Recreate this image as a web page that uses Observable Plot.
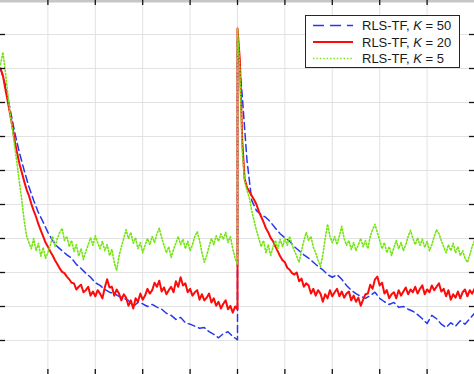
<!DOCTYPE html>
<html><head><meta charset="utf-8">
<script src="https://cdn.jsdelivr.net/npm/d3@7"></script>
<script src="https://cdn.jsdelivr.net/npm/@observablehq/plot@0.6"></script>
<style>
html,body{margin:0;padding:0;background:#fff;overflow:hidden;}
#wrap{position:relative;width:474px;height:374px;overflow:hidden;}
#legend{position:absolute;left:305px;top:15px;}
</style></head><body><div id="wrap"></div>
<script>
// ---- data (MSD in dB vs. iterations); change of system at iteration 1000 ----
const SWITCH_AT = 1000;
const STEP_FINE = 10;    // red & green sampled every 10 iterations
const STEP_COARSE = 20;  // blue sampled every 20 iterations
const xTicks = [200, 400, 600, 800, 1000, 1200, 1400, 1600, 1800];
const yTicks = [-50, -45, -40, -35, -30, -25, -20, -15, -10, -5];
const xDomain = [0, 2000];
const yDomain = [-55, 0];
const kValues = [50, 20, 5];
const labelPrefix = "RLS-TF, ";

// K = 50 (blue dashed)
const blue1 = [-10.0,-12.4,-15.9,-19.4,-22.4,-25.0,-27.4,-29.4,-31.2,-32.6,
  -34.1,-35.3,-36.2,-36.8,-37.4,-37.9,-38.8,-39.4,-40.1,-40.7,
  -41.5,-41.9,-42.5,-42.9,-43.1,-43.5,-43.8,-44.1,-45.0,-44.4,
  -44.6,-45.0,-44.7,-45.1,-45.4,-46.0,-46.3,-46.9,-46.6,-47.4,
  -47.6,-47.9,-48.2,-48.1,-48.7,-49.1,-49.6,-49.0,-48.7,-49.4,
  -49.9];
const blue2 = [-5.9,-14.0,-23.5,-29.4,-30.9,-31.5,-31.9,-32.6,-33.5,-34.3,
  -34.9,-35.4,-36.2,-36.8,-37.4,-37.9,-38.5,-39.1,-39.6,-40.3,
  -40.7,-40.3,-41.0,-41.9,-42.6,-43.1,-43.5,-43.8,-43.4,-42.9,
  -43.8,-44.3,-44.7,-44.4,-45.1,-45.0,-45.4,-45.7,-46.2,-46.8,
  -47.5,-46.3,-46.8,-47.6,-48.1,-47.4,-47.9,-47.1,-47.6,-46.8,
  -46.0];

// K = 20 (red solid)
const red1 = [-10.0,-11.0,-12.9,-14.7,-16.6,-18.5,-20.6,-22.4,-24.0,-25.3,
  -26.6,-27.8,-28.7,-29.9,-30.9,-31.8,-32.9,-33.8,-34.7,-35.6,
  -36.2,-36.9,-37.5,-38.2,-38.8,-39.4,-39.9,-40.1,-40.6,-41.0,
  -41.5,
  -41.6,-42.5,-42.1,-41.8,-42.9,-42.6,-42.1,-43.4,-42.8,-43.5,
  -42.6,-43.1,-43.8,-42.2,-41.0,-42.2,-42.1,-43.4,-42.5,-43.1,
  -44.1,-43.2,-43.7,-44.9,-44.1,-45.3,-43.8,-44.3,-43.1,-44.0,
  -43.4,-42.4,-43.1,-42.6,-41.5,-42.1,-41.2,-42.8,-42.2,-43.2,
  -42.6,-42.1,-42.9,-41.3,-42.1,-40.7,-41.9,-41.6,-42.9,-42.4,
  -43.4,-42.9,-42.6,-44.0,-43.2,-44.1,-43.7,-43.1,-44.4,-43.8,
  -44.9,-44.3,-45.3,-44.6,-44.1,-45.4,-44.9,-45.9,-45.0,-45.4];
const red2 = [-4.1,-8.8,-20.6,-26.2,-27.5,-28.1,-28.7,-29.3,-30.0,-31.0,
  -31.8,-32.6,-33.5,-34.1,-34.9,-35.4,-36.2,-36.9,-37.6,-38.2,
  -38.5,-39.3,-39.6,-40.1,
  -40.3,-40.0,-41.3,-40.9,-42.1,-41.6,-41.9,-43.1,-42.4,-43.4,
  -42.6,-43.1,-44.3,-43.2,-43.8,-42.6,-43.5,-42.9,-42.4,-43.5,
  -42.8,-43.7,-43.1,-42.8,-44.1,-43.4,-44.3,-43.7,-44.9,-44.0,
  -43.2,-43.1,-41.8,-42.4,-41.0,-40.6,-41.9,-41.5,-43.1,-42.6,
  -43.8,-43.2,-42.9,-43.8,-42.6,-43.4,-42.8,-42.2,-43.2,-42.5,
  -42.9,-42.1,-43.1,-42.4,-41.9,-43.2,-42.5,-42.9,-41.9,-42.6,
  -42.1,-41.6,-42.8,-42.4,-43.5,-42.6,-44.0,-43.2,-43.7,-42.8,
  -43.8,-42.9,-42.5,-43.5,-42.6,-43.1,-42.4];

// K = 5 (green dotted)
const green1 = [-9.4,-7.6,-10.3,-13.5,-16.5,-18.8,-21.5,-24.0,-26.8,-29.4,
  -32.4,-34.6,-35.6,-36.5,-35.0,-36.8,-35.7,-37.6,-36.3,-37.9,
  -37.1,-36.0,-34.7,-36.2,-35.0,-34.1,-33.5,-35.3,-34.7,-36.2,
  -35.3,-36.9,-35.9,-37.6,-36.5,-38.1,-36.9,-35.9,-34.9,-36.0,
  -34.6,-35.6,-36.5,-35.4,-36.8,-35.9,-37.5,-36.6,-38.5,-39.7,
  -37.6,-36.2,-35.0,-33.7,-35.0,-34.1,-35.7,-34.9,-36.5,-35.6,
  -37.1,-36.0,-35.0,-35.9,-34.7,-35.6,-34.3,-33.5,-34.9,-36.0,
  -37.1,-36.2,-37.8,-36.6,-35.7,-34.7,-35.9,-35.1,-36.5,-35.4,
  -36.8,-35.9,-34.7,-34.0,-35.3,-37.1,-38.5,-37.5,-36.2,-35.0,
  -35.9,-34.6,-35.4,-34.3,-35.1,-34.1,-35.6,-34.7,-36.5,-37.9,
  -38.8];
const green2 = [-4.1,-10.3,-22.1,-26.5,-27.9,-29.0,-30.9,-32.4,-33.8,-35.0,
  -36.2,-35.3,-37.1,-35.9,-37.5,-36.2,-35.3,-36.5,-35.1,-36.2,
  -35.0,-36.0,-34.7,-35.9,-36.8,-37.6,-38.5,-36.8,-35.3,-34.1,
  -35.3,-34.7,-36.3,-37.1,-38.2,-39.1,-37.4,-35.0,-32.9,-34.7,
  -35.6,-34.7,-35.9,-34.6,-33.2,-35.0,-36.0,-35.3,-36.6,-35.6,
  -36.8,-35.9,-35.0,-36.2,-35.3,-36.5,-34.7,-33.7,-32.9,-34.1,
  -35.3,-36.5,-35.6,-37.1,-36.2,-37.5,-36.3,-35.3,-36.5,-35.6,
  -36.8,-35.9,-34.7,-33.8,-35.0,-35.9,-34.9,-36.0,-35.1,-36.3,
  -35.4,-36.8,-35.9,-34.7,-33.7,-34.3,-35.3,-36.2,-37.1,-35.9,
  -36.8,-35.7,-37.1,-36.2,-37.5,-36.8,-37.9,-38.5,-37.4,-36.2,
  -35.3];

// ---- build rows ----
function rows(seg1, seg2, step) {
  return seg1.map((y, i) => ({x: i * step, y}))
    .concat(seg2.map((y, i) => ({x: SWITCH_AT + i * step, y})));
}
const blueRows = rows(blue1, blue2, STEP_COARSE);
const redRows = rows(red1, red2, STEP_FINE);
const greenRows = rows(green1, green2, STEP_FINE);

const styles = [
  {stroke: "#2438ee", strokeWidth: 1.5, strokeDasharray: "7,4"},
  {stroke: "#ff0a0a", strokeWidth: 2},
  {stroke: "#74e512", strokeWidth: 1.6, strokeDasharray: "1.4,2"}
];

const W = 474, H = 374, TICK = 5;
const chart = Plot.plot({
  width: W, height: H,
  marginTop: 0, marginRight: 0, marginBottom: 0, marginLeft: 0,
  x: {domain: xDomain, axis: null},
  y: {domain: yDomain, axis: null},
  style: {background: "#fff", overflow: "hidden"},
  marks: [
    Plot.gridX(xTicks, {stroke: "#e2e2e2", strokeOpacity: 1, strokeWidth: 1}),
    Plot.gridY(yTicks, {stroke: "#e2e2e2", strokeOpacity: 1, strokeWidth: 1}),
    Plot.ruleY([yDomain[1]], {stroke: "#c6c6c6", strokeWidth: 4}),
    Plot.line(blueRows, {x: "x", y: "y", ...styles[0], clip: true}),
    Plot.line(redRows, {x: "x", y: "y", ...styles[1], clip: true}),
    Plot.line(greenRows, {x: "x", y: "y", ...styles[2], clip: true}),
    Plot.tickX(xTicks, {x: d => d, stroke: "#111", strokeWidth: 1.3, insetBottom: H - TICK}),
    Plot.tickX(xTicks, {x: d => d, stroke: "#111", strokeWidth: 1.3, insetTop: H - TICK}),
    Plot.tickY(yTicks, {y: d => d, stroke: "#111", strokeWidth: 1.3, insetRight: W - TICK}),
    Plot.tickY(yTicks, {y: d => d, stroke: "#111", strokeWidth: 1.3, insetLeft: W - TICK})
  ]
});
const wrap = document.getElementById("wrap");
wrap.appendChild(chart);

// ---- legend (HTML overlay) ----
const LW = 155, LH = 53;
const leg = d3.create("svg").attr("id", "legend").attr("width", LW).attr("height", LH);
leg.append("rect").attr("x", 0.5).attr("y", 0.5).attr("width", LW - 1).attr("height", LH - 1)
  .attr("fill", "#fff").attr("stroke", "#262626").attr("stroke-width", 1);
kValues.forEach((k, r) => {
  const cy = 10.5 + r * 16.5;
  const s = styles[r];
  leg.append("line").attr("x1", 8).attr("x2", 48).attr("y1", cy).attr("y2", cy)
    .attr("stroke", s.stroke).attr("stroke-width", s.strokeWidth)
    .attr("stroke-dasharray", r === 0 ? "11,6" : (s.strokeDasharray || null));
  const t = leg.append("text").attr("x", 57).attr("y", cy + 4.6)
    .attr("font-family", "Arial, 'Liberation Sans', Helvetica, sans-serif")
    .attr("font-size", 13).attr("fill", "#1a1a1a");
  t.append("tspan").text(labelPrefix);
  t.append("tspan").attr("font-style", "italic").text("K");
  t.append("tspan").text(" = " + k);
});
wrap.appendChild(leg.node());
</script></body></html>
